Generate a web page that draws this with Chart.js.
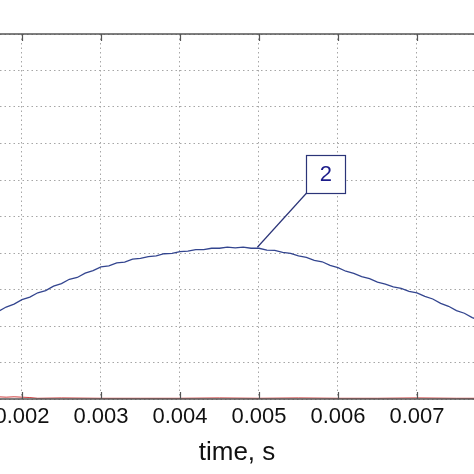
<!DOCTYPE html>
<html>
<head>
<meta charset="utf-8">
<script src="https://cdn.jsdelivr.net/npm/chart.js@4/dist/chart.umd.min.js"></script>
<style>
  html, body { margin: 0; padding: 0; background: #ffffff; }
  #wrap { width: 474px; height: 474px; }
</style>
</head>
<body>
<div id="wrap"><canvas id="chart" width="474" height="474"></canvas></div>
<script>
// time axis, s (step 0.0001)
const times = [
    0.0017, 0.0018, 0.0019, 0.0020, 0.0021, 0.0022, 0.0023, 0.0024, 0.0025, 0.0026,
    0.0027, 0.0028, 0.0029, 0.0030, 0.0031, 0.0032, 0.0033, 0.0034, 0.0035, 0.0036,
    0.0037, 0.0038, 0.0039, 0.0040, 0.0041, 0.0042, 0.0043, 0.0044, 0.0045, 0.0046,
    0.0047, 0.0048, 0.0049, 0.0050, 0.0051, 0.0052, 0.0053, 0.0054, 0.0055, 0.0056,
    0.0057, 0.0058, 0.0059, 0.0060, 0.0061, 0.0062, 0.0063, 0.0064, 0.0065, 0.0066,
    0.0067, 0.0068, 0.0069, 0.0070, 0.0071, 0.0072, 0.0073, 0.0074, 0.0075, 0.0076,
    0.0077, 0.0078
];

// curve 2 (blue)
const curve2 = [
    2.40, 2.52, 2.60, 2.72, 2.79, 2.91, 2.97, 3.09, 3.16, 3.28,
    3.33, 3.45, 3.52, 3.62, 3.65, 3.73, 3.75, 3.83, 3.85, 3.90,
    3.92, 3.98, 3.99, 4.04, 4.05, 4.09, 4.09, 4.13, 4.13, 4.16,
    4.14, 4.16, 4.13, 4.13, 4.08, 4.07, 4.02, 3.99, 3.92, 3.88,
    3.80, 3.76, 3.66, 3.60, 3.50, 3.44, 3.35, 3.30, 3.20, 3.15,
    3.07, 3.03, 2.95, 2.91, 2.81, 2.74, 2.62, 2.54, 2.42, 2.35,
    2.23, 2.15
];

// red trace lying on the bottom axis
const redTimes = [0.0017, 0.0018, 0.0019, 0.0020, 0.0021, 0.0022, 0.0025, 0.0030, 0.0035, 0.0040, 0.0045, 0.0050, 0.0055, 0.0060, 0.0065, 0.0070, 0.0075, 0.0078];
const redValues = [0.06, 0.05, 0.06, 0.05, 0.04, 0.02, 0.03, 0.02, 0.02, 0.02, 0.03, 0.02, 0.03, 0.02, 0.02, 0.03, 0.02, 0.02];

const xTicks = [0.002, 0.003, 0.004, 0.005, 0.006, 0.007];
const yTicks = [0, 1, 2, 3, 4, 5, 6, 7, 8, 9, 10];

const xMin = 0.001722, xMax = 0.007722;
const yMin = 0, yMax = 10;

// label "2" attached to the curve
const calloutText = "2";
const calloutAt = { x: 0.00498, y: 4.13 };

const axisColor = "#555555";
const gridColor = "#a6a6a6";

// frame lines, inward tick marks and the callout
const framePlugin = {
    id: "frame",
    afterDatasetsDraw(chart) {
        const ctx = chart.ctx;
        const area = chart.chartArea;
        const xs = chart.scales.x;
        const ys = chart.scales.y;
        ctx.save();
        ctx.strokeStyle = axisColor;
        ctx.lineWidth = 1.5;
        ctx.beginPath();
        ctx.moveTo(area.left, area.top);
        ctx.lineTo(area.right, area.top);
        ctx.moveTo(area.left, area.bottom);
        ctx.lineTo(area.right, area.bottom);
        ctx.stroke();
        ctx.lineWidth = 1.2;
        ctx.beginPath();
        xTicks.forEach(v => {
            const px = Math.round(xs.getPixelForValue(v)) + 0.5;
            ctx.moveTo(px, area.top);
            ctx.lineTo(px, area.top + 7);
            ctx.moveTo(px, area.bottom);
            ctx.lineTo(px, area.bottom - 7);
        });
        ctx.stroke();

        // callout box
        const ax = xs.getPixelForValue(calloutAt.x);
        const ay = ys.getPixelForValue(calloutAt.y);
        const bx = ax + 49, by = ay - 55;
        const bw = 39, bh = 38;
        ctx.strokeStyle = "#2b3478";
        ctx.lineWidth = 1.2;
        ctx.beginPath();
        ctx.moveTo(ax, ay - 1);
        ctx.lineTo(bx, by);
        ctx.stroke();
        ctx.fillStyle = "#ffffff";
        ctx.fillRect(bx, by - bh, bw, bh);
        ctx.strokeRect(Math.round(bx) + 0.5, Math.round(by - bh) + 0.5, bw, bh);
        ctx.fillStyle = "#1c1c8a";
        ctx.font = "22px 'Liberation Sans', Arial, sans-serif";
        ctx.textAlign = "center";
        ctx.textBaseline = "middle";
        ctx.fillText(calloutText, bx + bw / 2, by - bh / 2 + 1);
        ctx.restore();
    }
};

let ctx = document.getElementById("chart").getContext("2d");
let chart = new Chart(ctx, {
    type: "line",
    data: {
        datasets: [{
            label: "2",
            data: times.map((t, i) => ({ x: t, y: curve2[i] })),
            borderColor: "#33458f",
            borderWidth: 1.3,
            pointRadius: 0,
            tension: 0
        }, {
            label: "1",
            data: redTimes.map((t, i) => ({ x: t, y: redValues[i] })),
            borderColor: "#d04040",
            borderWidth: 1,
            pointRadius: 0,
            tension: 0
        }]
    },
    options: {
        responsive: false,
        animation: false,
        layout: { padding: { top: 34, left: 0, right: 0, bottom: 0 } },
        plugins: {
            legend: { display: false },
            tooltip: { enabled: false }
        },
        scales: {
            x: {
                type: "linear",
                min: xMin,
                max: xMax,
                afterBuildTicks: scale => {
                    scale.ticks = xTicks.map(v => ({ value: v }));
                },
                afterFit: scale => {
                    scale.height = 75;
                    // labels may run past the canvas edge, like the cropped original
                    scale.paddingLeft = 0;
                    scale.paddingRight = 0;
                },
                grid: {
                    color: gridColor,
                    lineWidth: 1,
                    drawTicks: false
                },
                border: { display: false, dash: [1.5, 3] },
                ticks: {
                    padding: 5,
                    color: "#111111",
                    font: { family: "'Liberation Sans', Arial, sans-serif", size: 22 },
                    maxRotation: 0,
                    callback: v => v.toFixed(3)
                },
                title: {
                    display: true,
                    text: "time, s",
                    color: "#111111",
                    font: { family: "'Liberation Sans', Arial, sans-serif", size: 26 },
                    padding: { top: 0, bottom: 6 }
                }
            },
            y: {
                type: "linear",
                min: yMin,
                max: yMax,
                afterBuildTicks: scale => {
                    scale.ticks = yTicks.map(v => ({ value: v }));
                },
                afterFit: scale => { scale.width = 0; },
                grid: {
                    color: gridColor,
                    lineWidth: 1,
                    drawTicks: false
                },
                border: { display: false, dash: [1.5, 3] },
                ticks: { display: false }
            }
        }
    },
    plugins: [framePlugin]
});
</script>
</body>
</html>
